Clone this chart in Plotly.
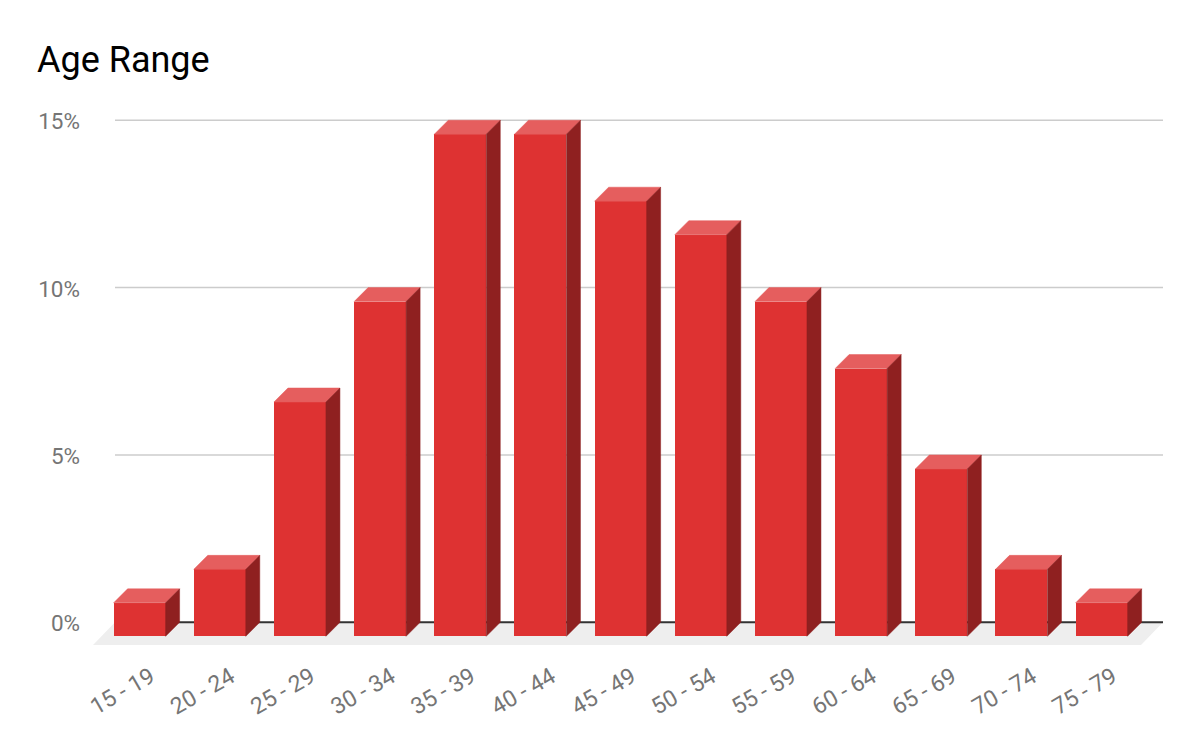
import plotly.graph_objects as go

categories = ["15 - 19", "20 - 24", "25 - 29", "30 - 34", "35 - 39", "40 - 44", "45 - 49",
              "50 - 54", "55 - 59", "60 - 64", "65 - 69", "70 - 74", "75 - 79"]
values = [1, 2, 7, 10, 15, 15, 13, 12, 10, 8, 5, 2, 1]
y_ticks = [0, 5, 10, 15]
y_labels = ["0%", "5%", "10%", "15%"]

FRONT, TOP, SIDE = "#DE3232", "#E55E5E", "#8F2020"
W, H = 1200, 742
L, R, T, B = 93, 1163, 100, 645
PX_X = 80.17           # pixels per category
PX_Y = 33.47           # pixels per percent
X0_PX, Y0_PX = 139.6, 622.3
DX = 14 / PX_X         # extrusion depth in x units
DY = 14 / PX_Y         # extrusion depth in y units
BW = 52 / PX_X

xs = list(range(len(values)))
x_range = [(L - X0_PX) / PX_X, (R - X0_PX) / PX_X]
y_range = [(Y0_PX - B) / PX_Y, (Y0_PX - T) / PX_Y]

top_x, top_y, side_x, side_y = [], [], [], []
for x, v in zip(xs, values):
    a, b = x - BW / 2, x + BW / 2
    top_x += [a, b, b + DX, a + DX, a, None]
    top_y += [v - DY, v - DY, v, v, v - DY, None]
    side_x += [b, b + DX, b + DX, b, b, None]
    side_y += [-DY, 0, v, v - DY, -DY, None]

fig = go.Figure()
fig.add_bar(x=xs, y=values, base=[-DY] * len(values), width=BW,
            marker=dict(color=FRONT, line=dict(width=0)), hoverinfo="skip")
fig.add_scatter(x=top_x, y=top_y, mode="lines", fill="toself", fillcolor=TOP,
                line=dict(width=0.5, color=TOP), hoverinfo="skip")
fig.add_scatter(x=side_x, y=side_y, mode="lines", fill="toself", fillcolor=SIDE,
                line=dict(width=0.5, color=SIDE), hoverinfo="skip")

grid_x0 = (115 - X0_PX) / PX_X
shapes = [dict(type="path", layer="below", line=dict(width=0), fillcolor="#EEEEEE",
               path=f"M {x_range[0]} {y_range[0]} L {grid_x0} 0 L {x_range[1]} 0 "
                    f"L {x_range[1] - 22 / PX_X} {y_range[0]} Z")]
for t in y_ticks:
    shapes.append(dict(type="line", layer="below", x0=grid_x0, x1=x_range[1], y0=t, y1=t,
                       line=dict(color="#333333" if t == 0 else "#CCCCCC", width=2 if t == 0 else 1.5)))

fig.update_layout(
    width=W, height=H, showlegend=False, bargap=0,
    paper_bgcolor="white", plot_bgcolor="white",
    margin=dict(l=L, r=W - R, t=T, b=H - B, pad=0),
    font=dict(family="Roboto", color="#757575", size=23),
    title=dict(text="Age Range", x=37 / W, xanchor="left", y=1 - 59 / H, yanchor="middle",
               font=dict(family="Roboto", size=36, color="#000000")),
    shapes=shapes,
    xaxis=dict(range=x_range, tickmode="array", tickvals=xs, ticktext=categories, tickangle=-30,
               showgrid=False, zeroline=False, showline=False, ticks="",
               ticklabelstandoff=13, ticklabelshift=11,
               tickfont=dict(family="Roboto", size=23, color="#757575")),
    yaxis=dict(range=y_range, tickmode="array", tickvals=[t - 1.3 / PX_Y for t in y_ticks], ticktext=y_labels,
               showgrid=False, zeroline=False, showline=False, ticks="",
               ticklabelstandoff=12,
               tickfont=dict(family="Roboto", size=22.5, color="#757575")),
)
fig.write_html("out.html", config=dict(displayModeBar=False),
               post_script="document.body.style.margin='0';")
